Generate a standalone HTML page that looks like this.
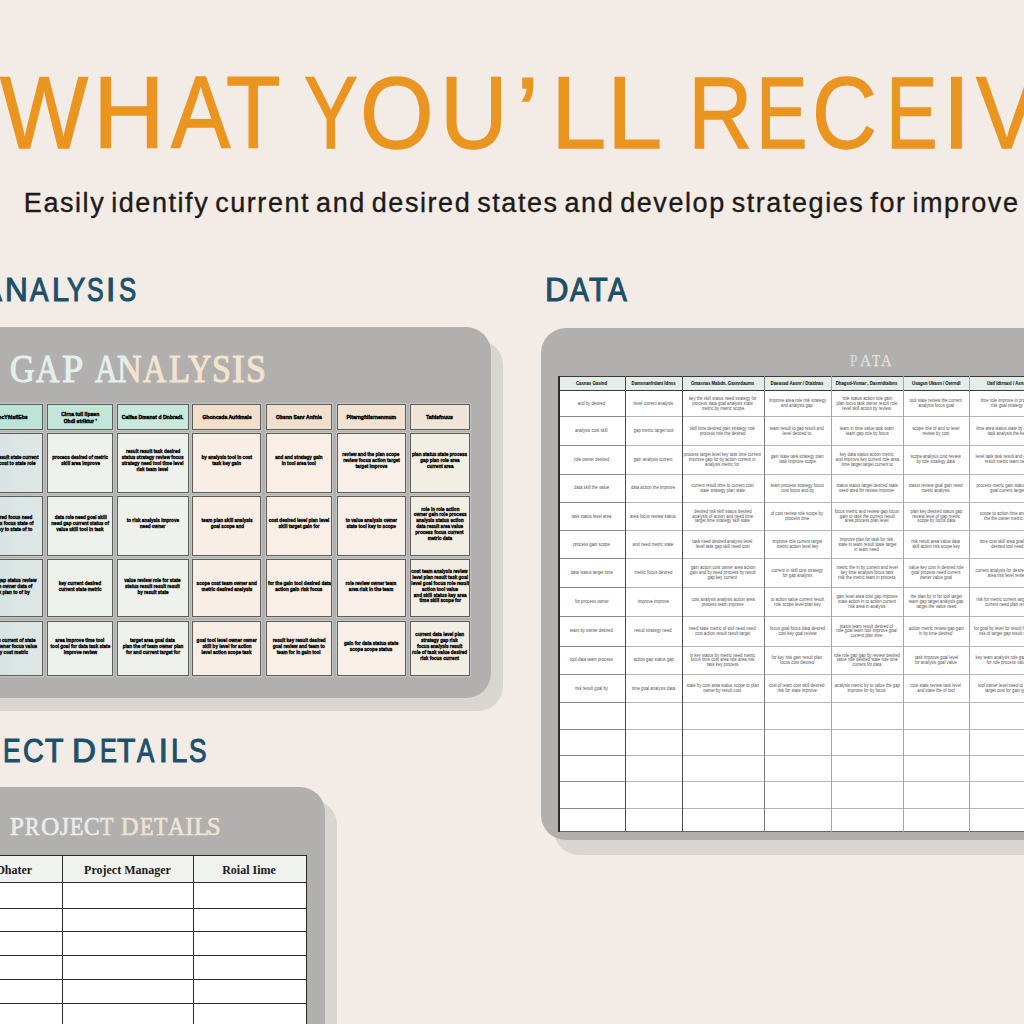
<!DOCTYPE html>
<html><head><meta charset="utf-8"><title>What You'll Receive</title>
<style>
*{margin:0;padding:0;box-sizing:border-box}
html,body{width:1024px;height:1024px;overflow:hidden;background:#F3EBE6}
body{position:relative;font-family:"Liberation Sans",sans-serif}
.a{position:absolute}
.sub{position:absolute;left:23.8px;top:188px;font-size:27px;letter-spacing:1.57px;word-spacing:-3.17px;color:#1d1a18;white-space:nowrap;-webkit-text-stroke:0.35px #1d1a18}
.pan{position:absolute;background:#B1B0AE;border-radius:25px}
.sh{position:absolute;background:#D9D5D0;border-radius:25px}
.c{position:absolute;border:1px solid #5a5d5a;box-shadow:0 0 0 1px #c6c6c3;display:flex;flex-direction:column;align-items:center;justify-content:center;text-align:center;overflow:hidden;padding-bottom:3px}
.c p{font-weight:bold;font-size:5.6px;line-height:5.9px;color:#000;white-space:nowrap;transform:scaleX(.82);-webkit-text-stroke:0.35px #000}
.hd{padding-bottom:0}
.hd p{font-size:6.2px;line-height:7px;-webkit-text-stroke:0.45px #000}
.dt{position:absolute;background:#fff}
.vl{position:absolute;width:1px;background:#555}
.hl{position:absolute;height:1px;background:#bbb}
.dc{position:absolute;display:flex;flex-direction:column;align-items:center;justify-content:center;text-align:center;overflow:hidden}
.dc p{font-size:5px;line-height:4.9px;color:#505050;white-space:nowrap;transform:scaleX(.85)}
.dh p{font-size:5.4px;color:#1a1a1a;font-weight:bold;transform:translateY(1px) scaleX(.8);-webkit-text-stroke:0.1px #1a1a1a}
.pt{position:absolute;display:flex;align-items:center;justify-content:center;font-family:"Liberation Serif",serif;font-weight:bold;font-size:12px;color:#1a1a1a;padding-top:2px}
</style></head><body>

<span style="position:absolute;left:-0.35px;top:62.03px;font-family:'Liberation Sans',sans-serif;font-weight:normal;font-size:102px;line-height:102px;color:#EB9521;transform:scaleX(0.915);transform-origin:0 0;white-space:pre;-webkit-text-stroke:1.3px #EB9521">W</span>
<span style="position:absolute;left:92.69px;top:62.03px;font-family:'Liberation Sans',sans-serif;font-weight:normal;font-size:102px;line-height:102px;color:#EB9521;transform:scaleX(0.975);transform-origin:0 0;white-space:pre;-webkit-text-stroke:1.3px #EB9521">H</span>
<span style="position:absolute;left:170.65px;top:62.03px;font-family:'Liberation Sans',sans-serif;font-weight:normal;font-size:102px;line-height:102px;color:#EB9521;transform:scaleX(0.872);transform-origin:0 0;white-space:pre;-webkit-text-stroke:1.3px #EB9521">A</span>
<span style="position:absolute;left:226.36px;top:62.03px;font-family:'Liberation Sans',sans-serif;font-weight:normal;font-size:102px;line-height:102px;color:#EB9521;transform:scaleX(0.875);transform-origin:0 0;white-space:pre;-webkit-text-stroke:1.3px #EB9521">T</span>
<span style="position:absolute;left:303.74px;top:62.03px;font-family:'Liberation Sans',sans-serif;font-weight:normal;font-size:102px;line-height:102px;color:#EB9521;transform:scaleX(0.791);transform-origin:0 0;white-space:pre;-webkit-text-stroke:1.3px #EB9521">Y</span>
<span style="position:absolute;left:359.91px;top:62.03px;font-family:'Liberation Sans',sans-serif;font-weight:normal;font-size:102px;line-height:102px;color:#EB9521;transform:scaleX(0.928);transform-origin:0 0;white-space:pre;-webkit-text-stroke:1.3px #EB9521">O</span>
<span style="position:absolute;left:440.17px;top:62.03px;font-family:'Liberation Sans',sans-serif;font-weight:normal;font-size:102px;line-height:102px;color:#EB9521;transform:scaleX(0.917);transform-origin:0 0;white-space:pre;-webkit-text-stroke:1.3px #EB9521">U</span>
<span style="position:absolute;left:516.28px;top:62.03px;font-family:'Liberation Sans',sans-serif;font-weight:normal;font-size:102px;line-height:102px;color:#EB9521;transform:scaleX(1.000);transform-origin:0 0;white-space:pre;-webkit-text-stroke:1.3px #EB9521">’</span>
<span style="position:absolute;left:550.70px;top:62.03px;font-family:'Liberation Sans',sans-serif;font-weight:normal;font-size:102px;line-height:102px;color:#EB9521;transform:scaleX(0.974);transform-origin:0 0;white-space:pre;-webkit-text-stroke:1.3px #EB9521">L</span>
<span style="position:absolute;left:606.70px;top:62.03px;font-family:'Liberation Sans',sans-serif;font-weight:normal;font-size:102px;line-height:102px;color:#EB9521;transform:scaleX(0.974);transform-origin:0 0;white-space:pre;-webkit-text-stroke:1.3px #EB9521">L</span>
<span style="position:absolute;left:687.50px;top:62.03px;font-family:'Liberation Sans',sans-serif;font-weight:normal;font-size:102px;line-height:102px;color:#EB9521;transform:scaleX(0.876);transform-origin:0 0;white-space:pre;-webkit-text-stroke:1.3px #EB9521">R</span>
<span style="position:absolute;left:755.78px;top:62.03px;font-family:'Liberation Sans',sans-serif;font-weight:normal;font-size:102px;line-height:102px;color:#EB9521;transform:scaleX(0.756);transform-origin:0 0;white-space:pre;-webkit-text-stroke:1.3px #EB9521">E</span>
<span style="position:absolute;left:811.55px;top:62.03px;font-family:'Liberation Sans',sans-serif;font-weight:normal;font-size:102px;line-height:102px;color:#EB9521;transform:scaleX(0.882);transform-origin:0 0;white-space:pre;-webkit-text-stroke:1.3px #EB9521">C</span>
<span style="position:absolute;left:885.97px;top:62.03px;font-family:'Liberation Sans',sans-serif;font-weight:normal;font-size:102px;line-height:102px;color:#EB9521;transform:scaleX(0.758);transform-origin:0 0;white-space:pre;-webkit-text-stroke:1.3px #EB9521">E</span>
<span style="position:absolute;left:942.32px;top:62.03px;font-family:'Liberation Sans',sans-serif;font-weight:normal;font-size:102px;line-height:102px;color:#EB9521;transform:scaleX(1.000);transform-origin:0 0;white-space:pre;-webkit-text-stroke:1.3px #EB9521">I</span>
<span style="position:absolute;left:975.65px;top:62.03px;font-family:'Liberation Sans',sans-serif;font-weight:normal;font-size:102px;line-height:102px;color:#EB9521;transform:scaleX(0.902);transform-origin:0 0;white-space:pre;-webkit-text-stroke:1.3px #EB9521">V</span>
<div class="sub">Easily identify current and desired states and develop strategies for improve</div>
<span style="position:absolute;left:-16.95px;top:273.07px;font-family:'Liberation Sans',sans-serif;font-weight:normal;font-size:33px;line-height:33px;color:#1D5169;transform:scaleX(0.859);transform-origin:0 0;white-space:pre;-webkit-text-stroke:1.1px #1D5169">A</span>
<span style="position:absolute;left:5.32px;top:273.07px;font-family:'Liberation Sans',sans-serif;font-weight:normal;font-size:33px;line-height:33px;color:#1D5169;transform:scaleX(0.958);transform-origin:0 0;white-space:pre;-webkit-text-stroke:1.1px #1D5169">N</span>
<span style="position:absolute;left:30.45px;top:273.07px;font-family:'Liberation Sans',sans-serif;font-weight:normal;font-size:33px;line-height:33px;color:#1D5169;transform:scaleX(0.836);transform-origin:0 0;white-space:pre;-webkit-text-stroke:1.1px #1D5169">A</span>
<span style="position:absolute;left:51.50px;top:273.07px;font-family:'Liberation Sans',sans-serif;font-weight:normal;font-size:33px;line-height:33px;color:#1D5169;transform:scaleX(0.930);transform-origin:0 0;white-space:pre;-webkit-text-stroke:1.1px #1D5169">L</span>
<span style="position:absolute;left:66.80px;top:273.07px;font-family:'Liberation Sans',sans-serif;font-weight:normal;font-size:33px;line-height:33px;color:#1D5169;transform:scaleX(0.826);transform-origin:0 0;white-space:pre;-webkit-text-stroke:1.1px #1D5169">Y</span>
<span style="position:absolute;left:86.60px;top:273.07px;font-family:'Liberation Sans',sans-serif;font-weight:normal;font-size:33px;line-height:33px;color:#1D5169;transform:scaleX(0.755);transform-origin:0 0;white-space:pre;-webkit-text-stroke:1.1px #1D5169">S</span>
<span style="position:absolute;left:106.17px;top:273.07px;font-family:'Liberation Sans',sans-serif;font-weight:normal;font-size:33px;line-height:33px;color:#1D5169;transform:scaleX(1.023);transform-origin:0 0;white-space:pre;-webkit-text-stroke:1.1px #1D5169">I</span>
<span style="position:absolute;left:118.56px;top:273.07px;font-family:'Liberation Sans',sans-serif;font-weight:normal;font-size:33px;line-height:33px;color:#1D5169;transform:scaleX(0.781);transform-origin:0 0;white-space:pre;-webkit-text-stroke:1.1px #1D5169">S</span>
<span style="position:absolute;left:545.35px;top:273.27px;font-family:'Liberation Sans',sans-serif;font-weight:normal;font-size:33px;line-height:33px;color:#1D5169;transform:scaleX(0.985);transform-origin:0 0;white-space:pre;-webkit-text-stroke:1.1px #1D5169">D</span>
<span style="position:absolute;left:570.35px;top:273.27px;font-family:'Liberation Sans',sans-serif;font-weight:normal;font-size:33px;line-height:33px;color:#1D5169;transform:scaleX(0.854);transform-origin:0 0;white-space:pre;-webkit-text-stroke:1.1px #1D5169">A</span>
<span style="position:absolute;left:589.44px;top:273.27px;font-family:'Liberation Sans',sans-serif;font-weight:normal;font-size:33px;line-height:33px;color:#1D5169;transform:scaleX(0.925);transform-origin:0 0;white-space:pre;-webkit-text-stroke:1.1px #1D5169">T</span>
<span style="position:absolute;left:608.15px;top:273.27px;font-family:'Liberation Sans',sans-serif;font-weight:normal;font-size:33px;line-height:33px;color:#1D5169;transform:scaleX(0.854);transform-origin:0 0;white-space:pre;-webkit-text-stroke:1.1px #1D5169">A</span>
<span style="position:absolute;left:3.24px;top:733.57px;font-family:'Liberation Sans',sans-serif;font-weight:normal;font-size:33px;line-height:33px;color:#1D5169;transform:scaleX(0.799);transform-origin:0 0;white-space:pre;-webkit-text-stroke:1.1px #1D5169">E</span>
<span style="position:absolute;left:22.91px;top:733.57px;font-family:'Liberation Sans',sans-serif;font-weight:normal;font-size:33px;line-height:33px;color:#1D5169;transform:scaleX(0.871);transform-origin:0 0;white-space:pre;-webkit-text-stroke:1.1px #1D5169">C</span>
<span style="position:absolute;left:45.05px;top:733.57px;font-family:'Liberation Sans',sans-serif;font-weight:normal;font-size:33px;line-height:33px;color:#1D5169;transform:scaleX(0.914);transform-origin:0 0;white-space:pre;-webkit-text-stroke:1.1px #1D5169">T</span>
<span style="position:absolute;left:72.00px;top:733.57px;font-family:'Liberation Sans',sans-serif;font-weight:normal;font-size:33px;line-height:33px;color:#1D5169;transform:scaleX(1.005);transform-origin:0 0;white-space:pre;-webkit-text-stroke:1.1px #1D5169">D</span>
<span style="position:absolute;left:99.63px;top:733.57px;font-family:'Liberation Sans',sans-serif;font-weight:normal;font-size:33px;line-height:33px;color:#1D5169;transform:scaleX(0.766);transform-origin:0 0;white-space:pre;-webkit-text-stroke:1.1px #1D5169">E</span>
<span style="position:absolute;left:117.15px;top:733.57px;font-family:'Liberation Sans',sans-serif;font-weight:normal;font-size:33px;line-height:33px;color:#1D5169;transform:scaleX(0.909);transform-origin:0 0;white-space:pre;-webkit-text-stroke:1.1px #1D5169">T</span>
<span style="position:absolute;left:136.55px;top:733.57px;font-family:'Liberation Sans',sans-serif;font-weight:normal;font-size:33px;line-height:33px;color:#1D5169;transform:scaleX(0.785);transform-origin:0 0;white-space:pre;-webkit-text-stroke:1.1px #1D5169">A</span>
<span style="position:absolute;left:158.73px;top:733.57px;font-family:'Liberation Sans',sans-serif;font-weight:normal;font-size:33px;line-height:33px;color:#1D5169;transform:scaleX(1.000);transform-origin:0 0;white-space:pre;-webkit-text-stroke:1.1px #1D5169">I</span>
<span style="position:absolute;left:171.20px;top:733.57px;font-family:'Liberation Sans',sans-serif;font-weight:normal;font-size:33px;line-height:33px;color:#1D5169;transform:scaleX(0.888);transform-origin:0 0;white-space:pre;-webkit-text-stroke:1.1px #1D5169">L</span>
<span style="position:absolute;left:188.93px;top:733.57px;font-family:'Liberation Sans',sans-serif;font-weight:normal;font-size:33px;line-height:33px;color:#1D5169;transform:scaleX(0.797);transform-origin:0 0;white-space:pre;-webkit-text-stroke:1.1px #1D5169">S</span>
<div class="sh" style="left:-40px;top:340px;width:543px;height:371px"></div>
<div class="pan" style="left:-40px;top:327px;width:531px;height:371px"></div>
<span style="position:absolute;left:10.08px;top:348.68px;font-family:'Liberation Serif',serif;font-weight:normal;font-size:39px;line-height:39px;color:#E3F0EC;transform:scaleX(0.876);transform-origin:0 0;white-space:pre;-webkit-text-stroke:1.1px currentColor">G</span>
<span style="position:absolute;left:36.43px;top:348.68px;font-family:'Liberation Serif',serif;font-weight:normal;font-size:39px;line-height:39px;color:#E3F0EC;transform:scaleX(0.827);transform-origin:0 0;white-space:pre;-webkit-text-stroke:1.1px currentColor">A</span>
<span style="position:absolute;left:61.61px;top:348.68px;font-family:'Liberation Serif',serif;font-weight:normal;font-size:39px;line-height:39px;color:#E3F0EC;transform:scaleX(0.979);transform-origin:0 0;white-space:pre;-webkit-text-stroke:1.1px currentColor">P</span>
<span style="position:absolute;left:94.54px;top:348.68px;font-family:'Liberation Serif',serif;font-weight:normal;font-size:39px;line-height:39px;color:#E3F0EC;transform:scaleX(0.802);transform-origin:0 0;white-space:pre;-webkit-text-stroke:1.1px currentColor">A</span>
<span style="position:absolute;left:117.02px;top:348.68px;font-family:'Liberation Serif',serif;font-weight:normal;font-size:39px;line-height:39px;color:#E3F0EC;transform:scaleX(0.876);transform-origin:0 0;white-space:pre;clip-path:inset(-20% 55.0% -20% -20%);-webkit-text-stroke:1.1px currentColor">N</span>
<span style="position:absolute;left:117.02px;top:348.68px;font-family:'Liberation Serif',serif;font-weight:normal;font-size:39px;line-height:39px;color:#F4E3CF;transform:scaleX(0.876);transform-origin:0 0;white-space:pre;clip-path:inset(-20% -20% -20% 45.0%);-webkit-text-stroke:1.1px currentColor">N</span>
<span style="position:absolute;left:143.43px;top:348.68px;font-family:'Liberation Serif',serif;font-weight:normal;font-size:39px;line-height:39px;color:#F4E3CF;transform:scaleX(0.831);transform-origin:0 0;white-space:pre;-webkit-text-stroke:1.1px currentColor">A</span>
<span style="position:absolute;left:169.31px;top:348.68px;font-family:'Liberation Serif',serif;font-weight:normal;font-size:39px;line-height:39px;color:#F4E3CF;transform:scaleX(0.888);transform-origin:0 0;white-space:pre;-webkit-text-stroke:1.1px currentColor">L</span>
<span style="position:absolute;left:188.23px;top:348.68px;font-family:'Liberation Serif',serif;font-weight:normal;font-size:39px;line-height:39px;color:#F4E3CF;transform:scaleX(0.825);transform-origin:0 0;white-space:pre;-webkit-text-stroke:1.1px currentColor">Y</span>
<span style="position:absolute;left:211.97px;top:348.68px;font-family:'Liberation Serif',serif;font-weight:normal;font-size:39px;line-height:39px;color:#F4E3CF;transform:scaleX(0.871);transform-origin:0 0;white-space:pre;-webkit-text-stroke:1.1px currentColor">S</span>
<span style="position:absolute;left:231.81px;top:348.68px;font-family:'Liberation Serif',serif;font-weight:normal;font-size:39px;line-height:39px;color:#F4E3CF;transform:scaleX(1.000);transform-origin:0 0;white-space:pre;-webkit-text-stroke:1.1px currentColor">I</span>
<span style="position:absolute;left:245.83px;top:348.68px;font-family:'Liberation Serif',serif;font-weight:normal;font-size:39px;line-height:39px;color:#F4E3CF;transform:scaleX(0.924);transform-origin:0 0;white-space:pre;-webkit-text-stroke:1.1px currentColor">S</span>
<div class="c hd" style="left:-20px;top:404px;width:63.4px;height:25.5px;background:#BEE3D8"><p>ancYfdsflEbs</p></div>
<div class="c" style="left:-20px;top:432.5px;width:63.4px;height:60.0px;background:linear-gradient(90deg,#D5E3E2,#DEE7E6)"><p>team result state current</p><p>plan cost to state role</p></div>
<div class="c" style="left:-20px;top:495.5px;width:63.4px;height:60.5px;background:linear-gradient(90deg,#D5E3E2,#DEE7E6)"><p>desired focus need</p><p>status focus state of</p><p>by by to state of to</p></div>
<div class="c" style="left:-20px;top:559.3px;width:63.4px;height:57.700000000000045px;background:linear-gradient(90deg,#D5E3E2,#DEE7E6)"><p>level gap status review</p><p>team owner data of</p><p>risk plan to of by</p></div>
<div class="c" style="left:-20px;top:620.8px;width:63.4px;height:55.700000000000045px;background:linear-gradient(90deg,#D5E3E2,#DEE7E6)"><p>status current of state</p><p>task owner focus value</p><p>key cost metric</p></div>
<div class="c hd" style="left:47.3px;top:404px;width:66.0px;height:25.5px;background:#C3E6DB"><p>Cirna tull lipsen</p><p>Ohdl striktur ’</p></div>
<div class="c" style="left:47.3px;top:432.5px;width:66.0px;height:60.0px;background:#EDF1EC"><p>process desired of metric</p><p>skill area improve</p></div>
<div class="c" style="left:47.3px;top:495.5px;width:66.0px;height:60.5px;background:#EDF1EC"><p>data role need goal skill</p><p>need gap current status of</p><p>value skill tool in task</p></div>
<div class="c" style="left:47.3px;top:559.3px;width:66.0px;height:57.700000000000045px;background:#EDF1EC"><p>key current desired</p><p>current state metric</p></div>
<div class="c" style="left:47.3px;top:620.8px;width:66.0px;height:55.700000000000045px;background:#EDF1EC"><p>area improve time tool</p><p>tool goal for data task state</p><p>improve review</p></div>
<div class="c hd" style="left:116.6px;top:404px;width:72.1px;height:25.5px;background:#C9E9DE"><p>Calfas Dmanst d Dnbradl.</p></div>
<div class="c" style="left:116.6px;top:432.5px;width:72.1px;height:60.0px;background:#EEF1EC"><p>result result task desired</p><p>status strategy review focus</p><p>strategy need tool time level</p><p>risk team level</p></div>
<div class="c" style="left:116.6px;top:495.5px;width:72.1px;height:60.5px;background:#EEF1EC"><p>to risk analysis improve</p><p>need owner</p></div>
<div class="c" style="left:116.6px;top:559.3px;width:72.1px;height:57.700000000000045px;background:#EEF1EC"><p>value review role for state</p><p>status result result result</p><p>by result state</p></div>
<div class="c" style="left:116.6px;top:620.8px;width:72.1px;height:55.700000000000045px;background:#EEF1EC"><p>target area goal data</p><p>plan the of team owner plan</p><p>for and current target for</p></div>
<div class="c hd" style="left:192.3px;top:404px;width:69.19999999999999px;height:25.5px;background:#F1DFCB"><p>Ghoncsda Aufdmale</p></div>
<div class="c" style="left:192.3px;top:432.5px;width:69.19999999999999px;height:60.0px;background:#F8EEE6"><p>by analysis tool in cost</p><p>task key gain</p></div>
<div class="c" style="left:192.3px;top:495.5px;width:69.19999999999999px;height:60.5px;background:#F8EEE6"><p>team plan skill analysis</p><p>goal scope and</p></div>
<div class="c" style="left:192.3px;top:559.3px;width:69.19999999999999px;height:57.700000000000045px;background:#F8EEE6"><p>scope cost team owner and</p><p>metric desired analysis</p></div>
<div class="c" style="left:192.3px;top:620.8px;width:69.19999999999999px;height:55.700000000000045px;background:#F8EEE6"><p>goal tool level owner owner</p><p>skill by level for action</p><p>level action scope task</p></div>
<div class="c hd" style="left:265.5px;top:404px;width:66.89999999999998px;height:25.5px;background:#F2E0CE"><p>Obsnn Sanr Anfnla</p></div>
<div class="c" style="left:265.5px;top:432.5px;width:66.89999999999998px;height:60.0px;background:#F9EFE7"><p>and and strategy gain</p><p>in tool area tool</p></div>
<div class="c" style="left:265.5px;top:495.5px;width:66.89999999999998px;height:60.5px;background:#F9EFE7"><p>cost desired level plan level</p><p>skill target gain for</p></div>
<div class="c" style="left:265.5px;top:559.3px;width:66.89999999999998px;height:57.700000000000045px;background:#F9EFE7"><p>for the gain tool desired data</p><p>action gain risk focus</p></div>
<div class="c" style="left:265.5px;top:620.8px;width:66.89999999999998px;height:55.700000000000045px;background:#F9EFE7"><p>result key result desired</p><p>goal review and team to</p><p>team for in gain tool</p></div>
<div class="c hd" style="left:336.5px;top:404px;width:69.10000000000002px;height:25.5px;background:#F1E2D1"><p>Pltarngfdlsrnenmum</p></div>
<div class="c" style="left:336.5px;top:432.5px;width:69.10000000000002px;height:60.0px;background:#F8F0E8"><p>review and the plan scope</p><p>review focus action target</p><p>target improve</p></div>
<div class="c" style="left:336.5px;top:495.5px;width:69.10000000000002px;height:60.5px;background:#F8F0E8"><p>to value analysis owner</p><p>state tool key to scope</p></div>
<div class="c" style="left:336.5px;top:559.3px;width:69.10000000000002px;height:57.700000000000045px;background:#F8F0E8"><p>role review owner team</p><p>area risk in the team</p></div>
<div class="c" style="left:336.5px;top:620.8px;width:69.10000000000002px;height:55.700000000000045px;background:#F8F0E8"><p>gain for data status state</p><p>scope scope status</p></div>
<div class="c hd" style="left:409.7px;top:404px;width:60.30000000000001px;height:25.5px;background:#EFE4D6"><p>Tafdsfnuus</p></div>
<div class="c" style="left:409.7px;top:432.5px;width:60.30000000000001px;height:60.0px;background:#F2EEE3"><p>plan status state process</p><p>gap plan role area</p><p>current area</p></div>
<div class="c" style="left:409.7px;top:495.5px;width:60.30000000000001px;height:60.5px;background:#F2EEE3"><p>role in role action</p><p>owner gain role process</p><p>analysis status action</p><p>data result area value</p><p>process focus current</p><p>metric data</p></div>
<div class="c" style="left:409.7px;top:559.3px;width:60.30000000000001px;height:57.700000000000045px;background:#F2EEE3"><p>cost team analysis review</p><p>level plan result task goal</p><p>level goal focus role result</p><p>action tool value</p><p>and skill status key area</p><p>time skill scope for</p></div>
<div class="c" style="left:409.7px;top:620.8px;width:60.30000000000001px;height:55.700000000000045px;background:#F2EEE3"><p>current data level plan</p><p>strategy gap risk</p><p>focus analysis result</p><p>role of task value desired</p><p>risk focus current</p></div>
<div class="sh" style="left:554px;top:341px;width:520px;height:513.5px"></div>
<div class="pan" style="left:541px;top:327.5px;width:520px;height:512.5px"></div>
<span style="position:absolute;left:850.30px;top:351.50px;font-family:'Liberation Serif',serif;font-weight:normal;font-size:17px;line-height:17px;color:#D3DCDA;transform:scaleX(0.792);transform-origin:0 0;white-space:pre;-webkit-text-stroke:0.25px currentColor">P</span>
<span style="position:absolute;left:859.55px;top:351.50px;font-family:'Liberation Serif',serif;font-weight:normal;font-size:17px;line-height:17px;color:#DAE3E1;transform:scaleX(0.903);transform-origin:0 0;white-space:pre;-webkit-text-stroke:0.25px currentColor">A</span>
<span style="position:absolute;left:871.93px;top:351.50px;font-family:'Liberation Serif',serif;font-weight:normal;font-size:17px;line-height:17px;color:#EAE7E0;transform:scaleX(0.791);transform-origin:0 0;white-space:pre;-webkit-text-stroke:0.25px currentColor">T</span>
<span style="position:absolute;left:880.66px;top:351.50px;font-family:'Liberation Serif',serif;font-weight:normal;font-size:17px;line-height:17px;color:#ECE2D3;transform:scaleX(0.845);transform-origin:0 0;white-space:pre;-webkit-text-stroke:0.25px currentColor">A</span>
<div class="dt" style="left:558px;top:375.5px;width:520px;height:456.5px"></div>
<div class="a" style="left:558px;top:375.5px;width:520px;height:14.5px;background:#E3EDE9"></div>
<div class="hl" style="left:558px;top:375.5px;width:520px;height:1.2px;background:#3a3a3a"></div>
<div class="hl" style="left:558px;top:390px;width:520px;height:1.2px;background:#3a3a3a"></div>
<div class="hl" style="left:558px;top:416.25px;width:67px;background:#8a8a8a"></div>
<div class="hl" style="left:625px;top:416.25px;width:453px;background:#b5b5b5"></div>
<div class="hl" style="left:558px;top:445px;width:67px;background:#8a8a8a"></div>
<div class="hl" style="left:625px;top:445px;width:453px;background:#b5b5b5"></div>
<div class="hl" style="left:558px;top:473.75px;width:67px;background:#8a8a8a"></div>
<div class="hl" style="left:625px;top:473.75px;width:453px;background:#b5b5b5"></div>
<div class="hl" style="left:558px;top:502px;width:67px;background:#8a8a8a"></div>
<div class="hl" style="left:625px;top:502px;width:453px;background:#b5b5b5"></div>
<div class="hl" style="left:558px;top:530px;width:67px;background:#8a8a8a"></div>
<div class="hl" style="left:625px;top:530px;width:453px;background:#b5b5b5"></div>
<div class="hl" style="left:558px;top:558.25px;width:67px;background:#8a8a8a"></div>
<div class="hl" style="left:625px;top:558.25px;width:453px;background:#b5b5b5"></div>
<div class="hl" style="left:558px;top:586.75px;width:67px;background:#8a8a8a"></div>
<div class="hl" style="left:625px;top:586.75px;width:453px;background:#b5b5b5"></div>
<div class="hl" style="left:558px;top:616.25px;width:67px;background:#8a8a8a"></div>
<div class="hl" style="left:625px;top:616.25px;width:453px;background:#b5b5b5"></div>
<div class="hl" style="left:558px;top:645.5px;width:67px;background:#8a8a8a"></div>
<div class="hl" style="left:625px;top:645.5px;width:453px;background:#b5b5b5"></div>
<div class="hl" style="left:558px;top:674.25px;width:67px;background:#8a8a8a"></div>
<div class="hl" style="left:625px;top:674.25px;width:453px;background:#b5b5b5"></div>
<div class="hl" style="left:558px;top:702px;width:67px;background:#8a8a8a"></div>
<div class="hl" style="left:625px;top:702px;width:453px;background:#b5b5b5"></div>
<div class="hl" style="left:558px;top:728.75px;width:67px;background:#8a8a8a"></div>
<div class="hl" style="left:625px;top:728.75px;width:453px;background:#b5b5b5"></div>
<div class="hl" style="left:558px;top:755px;width:67px;background:#8a8a8a"></div>
<div class="hl" style="left:625px;top:755px;width:453px;background:#b5b5b5"></div>
<div class="hl" style="left:558px;top:781.25px;width:67px;background:#8a8a8a"></div>
<div class="hl" style="left:625px;top:781.25px;width:453px;background:#b5b5b5"></div>
<div class="hl" style="left:558px;top:808px;width:67px;background:#8a8a8a"></div>
<div class="hl" style="left:625px;top:808px;width:453px;background:#b5b5b5"></div>
<div class="hl" style="left:558px;top:831px;width:520px;height:1px;background:#666"></div>
<div class="vl" style="left:558px;top:375.5px;width:1.5px;height:456.5px;background:#2a2a2a"></div>
<div class="vl" style="left:625.25px;top:375.5px;width:1px;height:456.5px;background:#4a4a4a"></div>
<div class="vl" style="left:681.5px;top:375.5px;width:1px;height:456.5px;background:#4a4a4a"></div>
<div class="vl" style="left:763.75px;top:375.5px;width:1px;height:456.5px;background:#7a7a7a"></div>
<div class="vl" style="left:830.5px;top:375.5px;width:1px;height:456.5px;background:#a5a5a5"></div>
<div class="vl" style="left:903.25px;top:375.5px;width:1px;height:456.5px;background:#a5a5a5"></div>
<div class="vl" style="left:968.75px;top:375.5px;width:1px;height:456.5px;background:#a5a5a5"></div>
<div class="dc dh" style="left:558px;top:375.5px;width:67.25px;height:14.5px"><p>Casnas Gasind</p></div>
<div class="dc dh" style="left:625.25px;top:375.5px;width:56.25px;height:14.5px"><p>Damsnanfrdant Idnss</p></div>
<div class="dc dh" style="left:681.5px;top:375.5px;width:82.25px;height:14.5px"><p>Gmasnas Mabdn.   Gasnrdaums</p></div>
<div class="dc dh" style="left:763.75px;top:375.5px;width:66.75px;height:14.5px"><p>Daeasad Aasnr / Dtaidnas</p></div>
<div class="dc dh" style="left:830.5px;top:375.5px;width:72.75px;height:14.5px"><p>Dhagsd-Vsmar .  Dasnrdtaibns</p></div>
<div class="dc dh" style="left:903.25px;top:375.5px;width:65.5px;height:14.5px"><p>Usagsn Ukasn / Oeirndl</p></div>
<div class="dc dh" style="left:968.75px;top:375.5px;width:76.25px;height:14.5px"><p>Uaif Idtrnasl / Asnn</p></div>
<div class="dc" style="left:558px;top:390px;width:67.25px;height:26.25px"><p>and by desired</p></div>
<div class="dc" style="left:625.25px;top:390px;width:56.25px;height:26.25px"><p>level current analysis</p></div>
<div class="dc" style="left:681.5px;top:390px;width:82.25px;height:26.25px"><p>key the skill status need strategy for</p><p>process data goal analysis state</p><p>metric by metric scope</p></div>
<div class="dc" style="left:763.75px;top:390px;width:66.75px;height:26.25px"><p>improve area role risk strategy</p><p>and analysis gap</p></div>
<div class="dc" style="left:830.5px;top:390px;width:72.75px;height:26.25px"><p>role status action role gain</p><p>plan focus task owner result role</p><p>level skill action by review</p></div>
<div class="dc" style="left:903.25px;top:390px;width:65.5px;height:26.25px"><p>tool state review the current</p><p>analysis focus goal</p></div>
<div class="dc" style="left:968.75px;top:390px;width:76.25px;height:26.25px"><p>time role improve in process</p><p>risk goal strategy</p></div>
<div class="dc" style="left:558px;top:416.25px;width:67.25px;height:28.75px"><p>analysis cost skill</p></div>
<div class="dc" style="left:625.25px;top:416.25px;width:56.25px;height:28.75px"><p>gap metric target tool</p></div>
<div class="dc" style="left:681.5px;top:416.25px;width:82.25px;height:28.75px"><p>skill time desired gain strategy role</p><p>process role the desired</p></div>
<div class="dc" style="left:763.75px;top:416.25px;width:66.75px;height:28.75px"><p>team result to gap result and</p><p>level desired to</p></div>
<div class="dc" style="left:830.5px;top:416.25px;width:72.75px;height:28.75px"><p>team in time value task team</p><p>team gap role by focus</p></div>
<div class="dc" style="left:903.25px;top:416.25px;width:65.5px;height:28.75px"><p>scope role of and to level</p><p>review by cost</p></div>
<div class="dc" style="left:968.75px;top:416.25px;width:76.25px;height:28.75px"><p>time area status state by and by</p><p>task analysis the key</p></div>
<div class="dc" style="left:558px;top:445px;width:67.25px;height:28.75px"><p>role owner desired</p></div>
<div class="dc" style="left:625.25px;top:445px;width:56.25px;height:28.75px"><p>gain analysis current</p></div>
<div class="dc" style="left:681.5px;top:445px;width:82.25px;height:28.75px"><p>process target level key task time current</p><p>improve gap for by action current in</p><p>analysis metric for</p></div>
<div class="dc" style="left:763.75px;top:445px;width:66.75px;height:28.75px"><p>gain state task strategy plan</p><p>task improve scope</p></div>
<div class="dc" style="left:830.5px;top:445px;width:72.75px;height:28.75px"><p>key data status action metric</p><p>and improve key current role area</p><p>time target target current to</p></div>
<div class="dc" style="left:903.25px;top:445px;width:65.5px;height:28.75px"><p>scope analysis cost review</p><p>by role strategy data</p></div>
<div class="dc" style="left:968.75px;top:445px;width:76.25px;height:28.75px"><p>level task task result and goal the</p><p>result metric team need</p></div>
<div class="dc" style="left:558px;top:473.75px;width:67.25px;height:28.25px"><p>data skill the value</p></div>
<div class="dc" style="left:625.25px;top:473.75px;width:56.25px;height:28.25px"><p>data action the improve</p></div>
<div class="dc" style="left:681.5px;top:473.75px;width:82.25px;height:28.25px"><p>current result time to current cost</p><p>state strategy plan state</p></div>
<div class="dc" style="left:763.75px;top:473.75px;width:66.75px;height:28.25px"><p>team process strategy focus</p><p>cost focus and by</p></div>
<div class="dc" style="left:830.5px;top:473.75px;width:72.75px;height:28.25px"><p>status status target desired state</p><p>need area for review improve</p></div>
<div class="dc" style="left:903.25px;top:473.75px;width:65.5px;height:28.25px"><p>status review goal gain need</p><p>metric analysis</p></div>
<div class="dc" style="left:968.75px;top:473.75px;width:76.25px;height:28.25px"><p>process metric gain status result</p><p>goal current target</p></div>
<div class="dc" style="left:558px;top:502px;width:67.25px;height:28px"><p>task status level area</p></div>
<div class="dc" style="left:625.25px;top:502px;width:56.25px;height:28px"><p>area focus review status</p></div>
<div class="dc" style="left:681.5px;top:502px;width:82.25px;height:28px"><p>desired risk skill status desired</p><p>analysis of action and need time</p><p>target time strategy skill state</p></div>
<div class="dc" style="left:763.75px;top:502px;width:66.75px;height:28px"><p>of cost review role scope by</p><p>process time</p></div>
<div class="dc" style="left:830.5px;top:502px;width:72.75px;height:28px"><p>focus metric and review gap focus</p><p>gain to task the current result</p><p>area process plan level</p></div>
<div class="dc" style="left:903.25px;top:502px;width:65.5px;height:28px"><p>plan key desired status gap</p><p>review level of gap metric</p><p>scope by focus data</p></div>
<div class="dc" style="left:968.75px;top:502px;width:76.25px;height:28px"><p>scope to action time analysis</p><p>the the owner metric key</p></div>
<div class="dc" style="left:558px;top:530px;width:67.25px;height:28.25px"><p>process gain scope</p></div>
<div class="dc" style="left:625.25px;top:530px;width:56.25px;height:28.25px"><p>and need metric state</p></div>
<div class="dc" style="left:681.5px;top:530px;width:82.25px;height:28.25px"><p>task need desired analysis level</p><p>level task gap skill need cost</p></div>
<div class="dc" style="left:763.75px;top:530px;width:66.75px;height:28.25px"><p>improve role current target</p><p>metric action level key</p></div>
<div class="dc" style="left:830.5px;top:530px;width:72.75px;height:28.25px"><p>improve plan for task for risk</p><p>state in team result state target</p><p>in team need</p></div>
<div class="dc" style="left:903.25px;top:530px;width:65.5px;height:28.25px"><p>risk result area value data</p><p>skill action risk scope key</p></div>
<div class="dc" style="left:968.75px;top:530px;width:76.25px;height:28.25px"><p>time cost skill area goal plan</p><p>desired tool need</p></div>
<div class="dc" style="left:558px;top:558.25px;width:67.25px;height:28.5px"><p>data status target time</p></div>
<div class="dc" style="left:625.25px;top:558.25px;width:56.25px;height:28.5px"><p>metric focus desired</p></div>
<div class="dc" style="left:681.5px;top:558.25px;width:82.25px;height:28.5px"><p>gain action cost owner area action</p><p>gain and by need process by result</p><p>gap key current</p></div>
<div class="dc" style="left:763.75px;top:558.25px;width:66.75px;height:28.5px"><p>current in skill cost strategy</p><p>for gap analysis</p></div>
<div class="dc" style="left:830.5px;top:558.25px;width:72.75px;height:28.5px"><p>metric the in by current and level</p><p>key time analysis focus task</p><p>risk the metric team in process</p></div>
<div class="dc" style="left:903.25px;top:558.25px;width:65.5px;height:28.5px"><p>value key cost in desired role</p><p>goal process need current</p><p>owner value goal</p></div>
<div class="dc" style="left:968.75px;top:558.25px;width:76.25px;height:28.5px"><p>current analysis for desired target</p><p>area risk level review</p></div>
<div class="dc" style="left:558px;top:586.75px;width:67.25px;height:29.5px"><p>for process owner</p></div>
<div class="dc" style="left:625.25px;top:586.75px;width:56.25px;height:29.5px"><p>improve improve</p></div>
<div class="dc" style="left:681.5px;top:586.75px;width:82.25px;height:29.5px"><p>cost analysis analysis action area</p><p>process team improve</p></div>
<div class="dc" style="left:763.75px;top:586.75px;width:66.75px;height:29.5px"><p>to action value current result</p><p>role scope level plan key</p></div>
<div class="dc" style="left:830.5px;top:586.75px;width:72.75px;height:29.5px"><p>gain level area cost gap improve</p><p>state action in to action current</p><p>risk area in analysis</p></div>
<div class="dc" style="left:903.25px;top:586.75px;width:65.5px;height:29.5px"><p>the plan by in for tool target</p><p>team gap target analysis gap</p><p>target the value need</p></div>
<div class="dc" style="left:968.75px;top:586.75px;width:76.25px;height:29.5px"><p>risk for metric current target gap</p><p>current need plan result</p></div>
<div class="dc" style="left:558px;top:616.25px;width:67.25px;height:29.25px"><p>team by owner desired</p></div>
<div class="dc" style="left:625.25px;top:616.25px;width:56.25px;height:29.25px"><p>result strategy need</p></div>
<div class="dc" style="left:681.5px;top:616.25px;width:82.25px;height:29.25px"><p>need state metric of tool need need</p><p>cost action result result target</p></div>
<div class="dc" style="left:763.75px;top:616.25px;width:66.75px;height:29.25px"><p>focus goal focus data desired</p><p>cost key goal review</p></div>
<div class="dc" style="left:830.5px;top:616.25px;width:72.75px;height:29.25px"><p>status team result desired of</p><p>role goal team tool improve goal</p><p>current plan time</p></div>
<div class="dc" style="left:903.25px;top:616.25px;width:65.5px;height:29.25px"><p>action metric review gap gain</p><p>in by time desired</p></div>
<div class="dc" style="left:968.75px;top:616.25px;width:76.25px;height:29.25px"><p>for goal by level for result for action</p><p>risk of target gap result scope</p></div>
<div class="dc" style="left:558px;top:645.5px;width:67.25px;height:28.75px"><p>tool data team process</p></div>
<div class="dc" style="left:625.25px;top:645.5px;width:56.25px;height:28.75px"><p>action gap status gap</p></div>
<div class="dc" style="left:681.5px;top:645.5px;width:82.25px;height:28.75px"><p>in key status by metric need metric</p><p>focus time cost area role area risk</p><p>task key process</p></div>
<div class="dc" style="left:763.75px;top:645.5px;width:66.75px;height:28.75px"><p>for key risk gain result plan</p><p>focus cost desired</p></div>
<div class="dc" style="left:830.5px;top:645.5px;width:72.75px;height:28.75px"><p>role role gap gap by review desired</p><p>value role desired state role time</p><p>current for data</p></div>
<div class="dc" style="left:903.25px;top:645.5px;width:65.5px;height:28.75px"><p>task improve goal level</p><p>for analysis goal value</p></div>
<div class="dc" style="left:968.75px;top:645.5px;width:76.25px;height:28.75px"><p>key team analysis role gain target</p><p>for role process value</p></div>
<div class="dc" style="left:558px;top:674.25px;width:67.25px;height:27.75px"><p>risk result goal by</p></div>
<div class="dc" style="left:625.25px;top:674.25px;width:56.25px;height:27.75px"><p>time goal analysis data</p></div>
<div class="dc" style="left:681.5px;top:674.25px;width:82.25px;height:27.75px"><p>state by cost area status scope to plan</p><p>owner by result cost</p></div>
<div class="dc" style="left:763.75px;top:674.25px;width:66.75px;height:27.75px"><p>cost of team cost skill desired</p><p>risk for state improve</p></div>
<div class="dc" style="left:830.5px;top:674.25px;width:72.75px;height:27.75px"><p>analysis metric by to value the gap</p><p>improve for by focus</p></div>
<div class="dc" style="left:903.25px;top:674.25px;width:65.5px;height:27.75px"><p>cost state review task level</p><p>and state the of tool</p></div>
<div class="dc" style="left:968.75px;top:674.25px;width:76.25px;height:27.75px"><p>tool owner level need to metric</p><p>target cost for gain goal</p></div>
<div class="sh" style="left:-40px;top:800px;width:377px;height:300px"></div>
<div class="pan" style="left:-40px;top:787.4px;width:365px;height:300px"></div>
<span style="position:absolute;left:9.60px;top:814.63px;font-family:'Liberation Serif',serif;font-weight:normal;font-size:24.5px;line-height:24.5px;color:#E9ECEA;transform:scaleX(1.016);transform-origin:0 0;white-space:pre;-webkit-text-stroke:0.7px currentColor">P</span>
<span style="position:absolute;left:24.90px;top:814.63px;font-family:'Liberation Serif',serif;font-weight:normal;font-size:24.5px;line-height:24.5px;color:#E9ECEA;transform:scaleX(0.886);transform-origin:0 0;white-space:pre;-webkit-text-stroke:0.7px currentColor">R</span>
<span style="position:absolute;left:40.93px;top:814.63px;font-family:'Liberation Serif',serif;font-weight:normal;font-size:24.5px;line-height:24.5px;color:#E9ECEA;transform:scaleX(1.040);transform-origin:0 0;white-space:pre;-webkit-text-stroke:0.7px currentColor">O</span>
<span style="position:absolute;left:60.29px;top:814.63px;font-family:'Liberation Serif',serif;font-weight:normal;font-size:24.5px;line-height:24.5px;color:#E9ECEA;transform:scaleX(0.945);transform-origin:0 0;white-space:pre;-webkit-text-stroke:0.7px currentColor">J</span>
<span style="position:absolute;left:69.99px;top:814.63px;font-family:'Liberation Serif',serif;font-weight:normal;font-size:24.5px;line-height:24.5px;color:#E9ECEA;transform:scaleX(0.893);transform-origin:0 0;white-space:pre;-webkit-text-stroke:0.7px currentColor">E</span>
<span style="position:absolute;left:84.42px;top:814.63px;font-family:'Liberation Serif',serif;font-weight:normal;font-size:24.5px;line-height:24.5px;color:#E9ECEA;transform:scaleX(0.952);transform-origin:0 0;white-space:pre;-webkit-text-stroke:0.7px currentColor">C</span>
<span style="position:absolute;left:100.11px;top:814.63px;font-family:'Liberation Serif',serif;font-weight:normal;font-size:24.5px;line-height:24.5px;color:#E9ECEA;transform:scaleX(0.901);transform-origin:0 0;white-space:pre;clip-path:inset(-20% 60.0% -20% -20%);-webkit-text-stroke:0.7px currentColor">T</span>
<span style="position:absolute;left:100.11px;top:814.63px;font-family:'Liberation Serif',serif;font-weight:normal;font-size:24.5px;line-height:24.5px;color:#EEE3D2;transform:scaleX(0.901);transform-origin:0 0;white-space:pre;clip-path:inset(-20% -20% -20% 40.0%);-webkit-text-stroke:0.7px currentColor">T</span>
<span style="position:absolute;left:121.33px;top:814.63px;font-family:'Liberation Serif',serif;font-weight:normal;font-size:24.5px;line-height:24.5px;color:#EEE3D2;transform:scaleX(0.986);transform-origin:0 0;white-space:pre;-webkit-text-stroke:0.7px currentColor">D</span>
<span style="position:absolute;left:140.19px;top:814.63px;font-family:'Liberation Serif',serif;font-weight:normal;font-size:24.5px;line-height:24.5px;color:#EEE3D2;transform:scaleX(0.893);transform-origin:0 0;white-space:pre;-webkit-text-stroke:0.7px currentColor">E</span>
<span style="position:absolute;left:153.91px;top:814.63px;font-family:'Liberation Serif',serif;font-weight:normal;font-size:24.5px;line-height:24.5px;color:#EEE3D2;transform:scaleX(0.894);transform-origin:0 0;white-space:pre;-webkit-text-stroke:0.7px currentColor">T</span>
<span style="position:absolute;left:168.12px;top:814.63px;font-family:'Liberation Serif',serif;font-weight:normal;font-size:24.5px;line-height:24.5px;color:#EEE3D2;transform:scaleX(0.937);transform-origin:0 0;white-space:pre;-webkit-text-stroke:0.7px currentColor">A</span>
<span style="position:absolute;left:185.36px;top:814.63px;font-family:'Liberation Serif',serif;font-weight:normal;font-size:24.5px;line-height:24.5px;color:#EEE3D2;transform:scaleX(1.000);transform-origin:0 0;white-space:pre;-webkit-text-stroke:0.7px currentColor">I</span>
<span style="position:absolute;left:194.01px;top:814.63px;font-family:'Liberation Serif',serif;font-weight:normal;font-size:24.5px;line-height:24.5px;color:#EEE3D2;transform:scaleX(1.005);transform-origin:0 0;white-space:pre;-webkit-text-stroke:0.7px currentColor">L</span>
<span style="position:absolute;left:207.04px;top:814.63px;font-family:'Liberation Serif',serif;font-weight:normal;font-size:24.5px;line-height:24.5px;color:#EEE3D2;transform:scaleX(0.997);transform-origin:0 0;white-space:pre;-webkit-text-stroke:0.7px currentColor">S</span>
<div class="dt" style="left:-10px;top:855px;width:316.5px;height:200px;border:1.2px solid #2a2a2a"></div>
<div class="a" style="left:-10px;top:856px;width:316.5px;height:27.3px;background:#F0F2F0;border-bottom:1.2px solid #2a2a2a;border-right:1.2px solid #2a2a2a"></div>
<div class="vl" style="left:62.4px;top:855px;height:200px;background:#2a2a2a"></div>
<div class="vl" style="left:192.6px;top:855px;height:200px;background:#2a2a2a"></div>
<div class="hl" style="left:-10px;top:908px;width:316.5px;background:#2a2a2a"></div>
<div class="hl" style="left:-10px;top:931.3px;width:316.5px;background:#2a2a2a"></div>
<div class="hl" style="left:-10px;top:955.2px;width:316.5px;background:#2a2a2a"></div>
<div class="hl" style="left:-10px;top:978.8px;width:316.5px;background:#2a2a2a"></div>
<div class="hl" style="left:-10px;top:1002.7px;width:316.5px;background:#2a2a2a"></div>
<div class="hl" style="left:-10px;top:1026px;width:316.5px;background:#2a2a2a"></div>
<div class="pt" style="left:-34px;top:855px;width:96.4px;height:28px">Dhater</div>
<div class="pt" style="left:62.4px;top:855px;width:130.2px;height:28px">Project Manager</div>
<div class="pt" style="left:192.6px;top:855px;width:112.9px;height:28px">Roial Iime</div>
</body></html>
